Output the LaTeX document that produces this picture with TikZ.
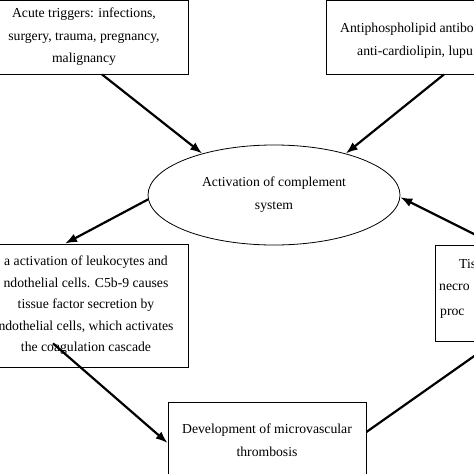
\documentclass[tikz,border=0pt]{standalone}
\usepackage{fontspec}
\setmainfont{Liberation Serif}
\usetikzlibrary{positioning,arrows.meta,shapes.geometric,calc}

\begin{document}
\begin{tikzpicture}[x=1pt, y=-1pt,
  box/.style={rectangle, draw, line width=0.8pt, align=center, inner sep=0pt,
              font=\fontsize{13.7}{22.5}\selectfont},
  comp/.style={ellipse, draw, line width=0.8pt, align=center, inner sep=0pt,
               minimum width=252pt, minimum height=100pt,
               font=\fontsize{13.7}{23}\selectfont},
  txt/.style={inner sep=0pt, font=\fontsize{13.7}{16}\selectfont},
  arr/.style={-{Latex[length=12pt,width=9pt]}, line width=2.2pt},
]
  \useasboundingbox (0,0) rectangle (474,474);
  \clip (0,0) rectangle (474,474);

  % triggers on top
  \node[box, minimum width=208pt, minimum height=74pt] (trig) at (84,37)
    {Acute triggers: infections,\\surgery, trauma, pregnancy,\\malignancy};
  \node[box, minimum width=200pt, minimum height=74pt] (anti) at (426,37) {};
  \node[txt, anchor=base west] (antia) at (340,32) {Antiphospholipid antibo};
  \node[txt, anchor=base west] (antib) at (357,55) {anti-cardiolipin, lupu};

  % complement
  \node[comp] (compl) at (274,195) {Activation of complement\\system};

  % middle row
  \node[box, minimum width=204pt, minimum height=123pt,
        font=\fontsize{13.7}{21.5}\selectfont] (casc) at (86,305.5)
    {a activation of leukocytes and\\ndothelial cells. C5b-9 causes\\tissue factor secretion by\\ndothelial cells, which activates\\the coagulation cascade};
  \node[box, minimum width=120pt, minimum height=96pt] (tissue) at (495,293) {};
  \node[txt, anchor=base west] (tisa) at (459,268) {Tis};
  \node[txt, anchor=base west] (tisb) at (439,290) {necro};
  \node[txt, anchor=base west] (tisc) at (440,315) {proc};

  % thrombosis
  \node[box, minimum width=198pt, minimum height=76pt] (thromb) at (267,440)
    {Development of microvascular\\thrombosis};

  \draw[arr] ($(trig.south)+(18,0)$) -- (compl.150);
  \draw[arr] ($(anti.south)+(18,0)$) -- (compl.30);
  \draw[arr] (compl.182) -- ($(casc.north)+(-21,0)$);
  \draw[arr] ($(casc.south)+(-33,-24)$) -- ($(thromb.west)+(0,3)$);
  \draw[arr] ($(thromb.east)+(0,-8)$) -- (tissue.south);
  \draw[arr] (tissue.north) -- (compl.-1);
\end{tikzpicture}
\end{document}
